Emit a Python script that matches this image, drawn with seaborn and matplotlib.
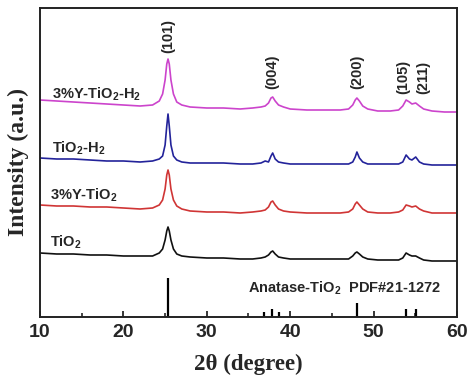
import numpy as np
import pandas as pd
import matplotlib
matplotlib.use('Agg')
import matplotlib.pyplot as plt
import seaborn as sns

# 2theta grid (degrees) shared by the four patterns
two_theta = [10, 12, 14, 16, 18, 20, 22, 23.5, 24.3, 24.7, 25.0, 25.2, 25.35, 25.5, 25.7,
             26.0, 26.4, 27, 28, 30, 32, 34, 35.5, 36.5, 37.0, 37.4, 37.7, 37.9, 38.2,
             38.6, 39.2, 40, 42, 44, 46, 47.0, 47.5, 47.8, 48.0, 48.3, 48.7, 49.3, 50.5,
             52, 53.0, 53.5, 53.9, 54.3, 54.6, 55.05, 55.5, 56.0, 57.0, 58.5, 60]

# intensities (a.u., stacked offsets included)
y_tio2 = [64, 63, 63, 62, 62, 61, 61, 61, 64, 68, 77, 86, 90, 86, 77,
          68, 63, 61, 60, 59, 59, 58, 58, 59, 60, 62, 65, 66, 63,
          60, 59, 58, 58, 58, 58, 58, 61, 64, 65, 63, 60, 58, 57,
          57, 57, 59, 64, 62, 61, 61, 59, 57, 56, 56, 56]
y_ytio2 = [112, 111, 111, 110, 110, 109, 108, 109, 112, 117, 128, 142, 147, 142, 128,
           117, 111, 108, 106, 105, 105, 104, 105, 106, 107, 110, 115, 116, 112,
           108, 106, 105, 104, 104, 104, 105, 108, 113, 115, 112, 108, 105, 104,
           104, 105, 107, 112, 111, 110, 111, 108, 106, 104, 104, 104]
y_tio2_h2 = [159, 158, 158, 157, 156, 156, 155, 156, 158, 161, 172, 191, 203, 191, 172,
             161, 157, 155, 154, 154, 154, 153, 153, 154, 156, 155, 161, 164, 158,
             155, 154, 153, 153, 153, 153, 153, 155, 160, 165, 159, 155, 153, 153,
             153, 153, 155, 162, 158, 157, 160, 155, 153, 152, 152, 152]
y_ytio2_h2 = [217, 216, 215, 214, 213, 212, 211, 212, 216, 223, 237, 253, 258, 253, 237,
              223, 215, 212, 210, 209, 209, 208, 209, 210, 211, 214, 219, 220, 216,
              212, 210, 208, 207, 207, 207, 208, 212, 217, 219, 216, 211, 208, 206,
              206, 207, 211, 217, 215, 213, 214, 211, 208, 206, 205, 205]

samples = ['TiO2', '3%Y-TiO2', 'TiO2-H2', '3%Y-TiO2-H2']
colors = ['#111111', '#d03535', '#23239a', '#cc44cc']

# standard card lines (anatase, PDF#21-1272)
ref_pos = [25.3, 36.9, 37.8, 38.6, 48.0, 53.9, 55.1]
ref_int = [39, 5, 8, 5, 14, 8, 8]

hkl = ['(101)', '(004)', '(200)', '(105)', '(211)']
hkl_x = [25.35, 37.9, 48.0, 53.5, 55.9]
hkl_y = [281, 245, 245, 240, 240]

df = pd.DataFrame({
    'two_theta': two_theta * 4,
    'intensity': y_tio2 + y_ytio2 + y_tio2_h2 + y_ytio2_h2,
    'sample': np.repeat(samples, len(two_theta)),
})

sns.set_style('ticks')
plt.rcParams['font.family'] = ['Liberation Sans', 'DejaVu Sans']
plt.rcParams['mathtext.fontset'] = 'custom'
plt.rcParams['mathtext.rm'] = 'Liberation Sans:bold'
plt.rcParams['mathtext.it'] = 'Liberation Sans:bold'
plt.rcParams['mathtext.bf'] = 'Liberation Sans:bold'

fig = plt.figure(figsize=(4.74, 3.81), dpi=100)
ax = fig.add_axes([0.0844, 0.168, 0.8797, 0.811])

sns.lineplot(data=df, x='two_theta', y='intensity', hue='sample',
             palette=dict(zip(samples, colors)), linewidth=1.2,
             legend=False, ax=ax)
ax.vlines(ref_pos, 0, ref_int, color='black', linewidth=1.6)

ax.set_xlim(10, 60)
ax.set_ylim(0, 309)
ax.set_yticks([])
ax.set_xticks([10, 20, 30, 40, 50, 60])
ax.set_xticks([15, 25, 35, 45, 55], minor=True)
ax.tick_params(axis='x', which='major', direction='in', length=4, width=1.3,
               labelsize=14, pad=5)
ax.tick_params(axis='x', which='minor', direction='in', length=3, width=1.2)
for lab in ax.get_xticklabels():
    lab.set_fontweight('bold')
for sp in ax.spines.values():
    sp.set_linewidth(1.4)
    sp.set_color('#222222')

ax.set_xlabel('2θ (degree)', family='Liberation Serif', fontweight='bold',
              fontsize=16.5, labelpad=9)
ax.set_ylabel('Intensity (a.u.)', family='Liberation Serif', fontweight='bold',
              fontsize=17, labelpad=8)

# sample names
lab_txt = ['TiO$_2$', '3%Y-TiO$_2$', 'TiO$_2$-H$_2$', '3%Y-TiO$_2$-H$_2$']
lab_x = [11.2, 11.2, 11.44, 11.44]
lab_y = [70, 117, 164, 218]
for t, x, y in zip(lab_txt, lab_x, lab_y):
    ax.text(x, y, t, fontsize=10.5, fontweight='bold', va='baseline', ha='left')

for t, x, y in zip(hkl, hkl_x, hkl_y):
    ax.text(x, y, t, fontsize=10.5, fontweight='bold', rotation=90,
            ha='center', va='center')

ax.text(34.9, 24, 'Anatase-TiO$_2$  PDF#21-1272', fontsize=10.5,
        fontweight='bold', va='baseline', ha='left')

fig.savefig('out.png', dpi=100)
